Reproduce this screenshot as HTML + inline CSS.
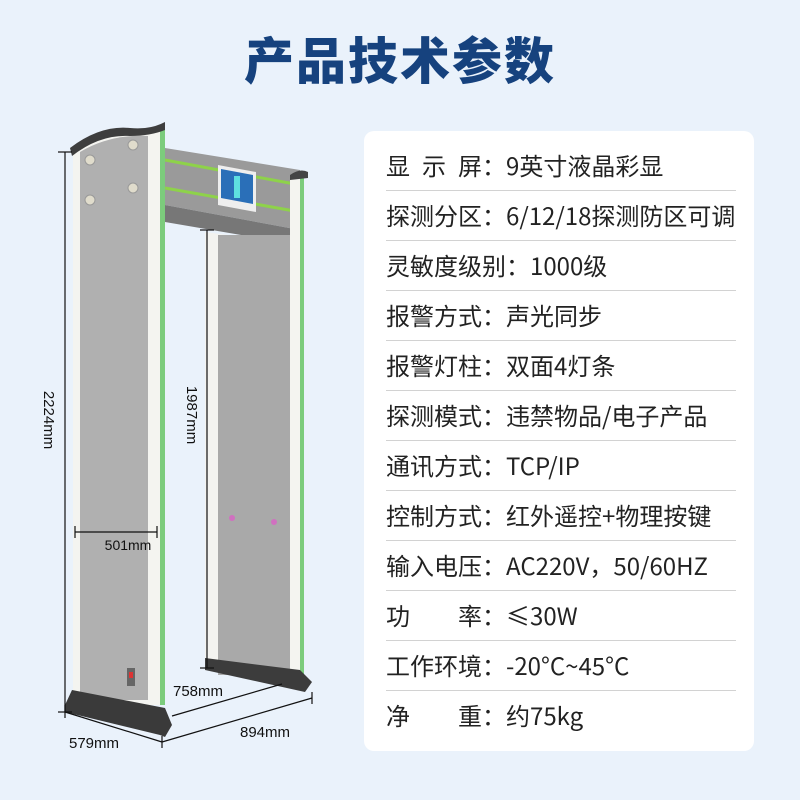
<!DOCTYPE html>
<html><head><meta charset="utf-8"><style>
body{margin:0;width:800px;height:800px;background:#eaf2fb;position:relative;overflow:hidden;font-family:"Liberation Sans","Noto Sans CJK SC",sans-serif}
h1{position:absolute;top:22px;left:0;width:800px;text-align:center;margin:0;font-size:50px;font-weight:900;color:#16427e;font-family:"Noto Sans CJK SC",sans-serif;letter-spacing:2px}
.card{position:absolute;left:364px;top:131px;width:390px;height:620px;background:#fff;border-radius:10px}
.row{position:absolute;left:22px;width:350px;height:50px;line-height:50px;font-size:24px;color:#222;font-family:"Noto Sans CJK SC",sans-serif;border-bottom:1px solid #d2d2d2;white-space:nowrap}
.row:last-child{border-bottom:none}
svg{position:absolute;left:0;top:0}
</style></head><body>
<h1>产品技术参数</h1>
<svg width="360" height="800" viewBox="0 0 360 800">
<polygon points="165,148 300,170 300,230 165,205" fill="#9a9a9a"/>
<polygon points="165,205 300,230 300,245 165,222" fill="#777"/>
<line x1="165" y1="160" x2="300" y2="185" stroke="#8ed24a" stroke-width="3"/>
<line x1="165" y1="188" x2="300" y2="212" stroke="#8ed24a" stroke-width="3"/>
<polygon points="218,165 256,172 256,212 218,205" fill="#eee"/>
<polygon points="221,169 253,175 253,204 221,198" fill="#2a6fb8"/>
<rect x="234" y="176" width="6" height="22" fill="#5fe0e0"/>
<path d="M205 232 L300 245 L300 685 L205 670 Z" fill="#f3f3f0"/>
<rect x="218" y="235" width="72" height="440" fill="#a9a9a9"/>
<rect x="300" y="175" width="4" height="510" fill="#7ccc7c"/>
<rect x="290" y="175" width="10" height="510" fill="#f4f4f0"/>
<path d="M290 175 Q300 168 308 172 L308 178 L290 180 Z" fill="#444"/>
<circle cx="232" cy="518" r="3" fill="#d070c0"/>
<circle cx="274" cy="522" r="3" fill="#d070c0"/>
<path d="M205 658 L300 670 L312 682 L305 692 L205 670 Z" fill="#3c3c3c"/>
<path d="M73 152 Q110 128 140 132 Q155 133 165 128 L165 705 L73 705 Z" fill="#f4f4f0"/>
<path d="M80 152 Q110 134 148 136 L148 700 L80 700 Z" fill="#b0b0b0"/>
<rect x="160" y="130" width="5" height="575" fill="#7ccc7c"/>
<path d="M70 148 Q100 125 130 128 Q150 130 165 122 L165 130 Q150 136 130 136 Q100 134 72 156 Z" fill="#3e3e3e"/>
<g fill="#e0dccc" stroke="#999"><circle cx="90" cy="160" r="5"/><circle cx="133" cy="145" r="5"/><circle cx="90" cy="200" r="5"/><circle cx="133" cy="188" r="5"/></g>
<rect x="127" y="668" width="8" height="18" fill="#666"/><rect x="129" y="672" width="4" height="6" fill="#d33"/>
<path d="M65 705 L72 690 L165 708 L172 725 L165 737 L160 735 L65 712 Z" fill="#3a3a3a"/>
<g stroke="#111" stroke-width="1.2" fill="none">
<line x1="65" y1="152" x2="65" y2="712"/><line x1="58" y1="152" x2="72" y2="152"/><line x1="58" y1="712" x2="72" y2="712"/>
<line x1="207" y1="230" x2="207" y2="668"/><line x1="200" y1="230" x2="214" y2="230"/><line x1="200" y1="668" x2="214" y2="668"/>
<line x1="75" y1="532" x2="157" y2="532"/><line x1="75" y1="526" x2="75" y2="538"/><line x1="157" y1="526" x2="157" y2="538"/>
<line x1="65" y1="712" x2="162" y2="742"/><line x1="65" y1="705" x2="65" y2="718"/><line x1="162" y1="736" x2="162" y2="748"/>
<line x1="162" y1="742" x2="312" y2="698"/><line x1="312" y1="692" x2="312" y2="704"/>
<line x1="172" y1="716" x2="282" y2="684"/>
</g>
<g font-family="Liberation Sans,sans-serif" font-size="15" fill="#111">
<text transform="translate(44,420) rotate(90)" text-anchor="middle">2224mm</text>
<text transform="translate(187,415) rotate(90)" text-anchor="middle">1987mm</text>
<text x="128" y="550" text-anchor="middle" font-size="14">501mm</text>
<text x="173" y="696">758mm</text>
<text x="240" y="737">894mm</text>
<text x="69" y="748">579mm</text>
</g>
</svg>
<div class="card">
<div class="row" style="top:9px"><span style="letter-spacing:12px">显示</span>屏：9英寸液晶彩显</div>
<div class="row" style="top:59px">探测分区：6/12/18探测防区可调</div>
<div class="row" style="top:109px">灵敏度级别：1000级</div>
<div class="row" style="top:159px">报警方式：声光同步</div>
<div class="row" style="top:209px">报警灯柱：双面4灯条</div>
<div class="row" style="top:259px">探测模式：违禁物品/电子产品</div>
<div class="row" style="top:309px">通讯方式：TCP/IP</div>
<div class="row" style="top:359px">控制方式：红外遥控+物理按键</div>
<div class="row" style="top:409px">输入电压：AC220V，50/60HZ</div>
<div class="row" style="top:459px">功&emsp;&emsp;率：≤30W</div>
<div class="row" style="top:509px">工作环境：-20°C~45°C</div>
<div class="row" style="top:559px">净&emsp;&emsp;重：约75kg</div>
</div>
</body></html>
